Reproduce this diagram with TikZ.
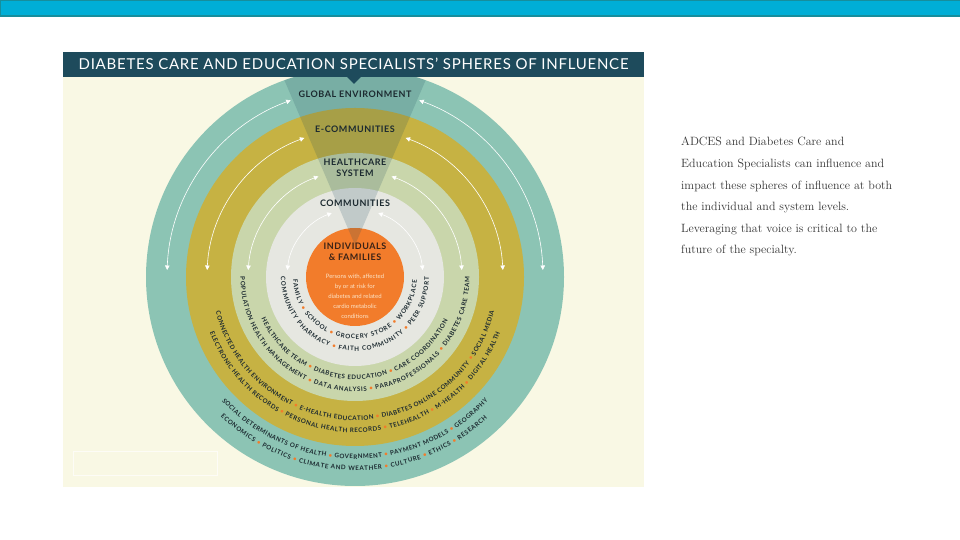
\documentclass[tikz,border=0pt]{standalone}
\usepackage{fontspec}
\setsansfont{Lato}
\usepackage{tikz}
\usetikzlibrary{arrows.meta, decorations.text}
\definecolor{barblue}{HTML}{00AED6}
\definecolor{baredge}{HTML}{168E9C}
\definecolor{headteal}{HTML}{1E4B5C}
\definecolor{creambg}{HTML}{F9F8E4}
\definecolor{globalteal}{HTML}{8CC4B4}
\definecolor{ecomgold}{HTML}{C6B243}
\definecolor{hcgreen}{HTML}{C9D6AB}
\definecolor{commgray}{HTML}{E6E7E1}
\definecolor{indorange}{HTML}{F27C2B}
\definecolor{inkdark}{HTML}{1C2A30}
\definecolor{inkbrown}{HTML}{3A2216}
\definecolor{inkpeach}{HTML}{FCE3C6}
\definecolor{bodygray}{HTML}{333333}
\newcommand\ringfont{\sffamily\bfseries\fontsize{6.2}{7}\selectfont\color{inkdark}}
\newcommand\dotfont{\sffamily\bfseries\fontsize{6.2}{7}\selectfont\color{indorange}}
\tikzset{
  ringhead/.style={font=\sffamily\bfseries\fontsize{9}{11}\selectfont\addfontfeatures{LetterSpace=6}, text=inkdark, align=center, inner sep=0pt},
  ringtext/.style={decorate, decoration={text along path, text align=fit to path, text={#1}}},
  flowarc/.style={{Triangle[length=4.5pt,width=4.5pt]}-{Triangle[length=4.5pt,width=4.5pt]}, line width=0.6pt, draw=white},
}

\begin{document}
\begin{tikzpicture}[x=1pt, y=1pt,
  blurb/.style={font=\fontsize{12}{14}\selectfont, text=bodygray, anchor=base west, inner sep=0pt}]
  \useasboundingbox (0,0) rectangle (960,540);
  \fill[white] (0,0) rectangle (960,540);
  % top strip
  \fill[barblue, draw=baredge, line width=0.8pt] (0,524) rectangle (960,540);
  \draw[baredge, line width=1.4pt] (0,524.5) -- (960,524.5);
  % panel
  \fill[creambg] (63,53) rectangle (644,463);
  \draw[white, opacity=0.7, line width=0.8pt] (73,65) rectangle (217,89);
  \coordinate (c) at (355,263);
  \coordinate (tip) at (355,295);
  % spheres, outermost first
  \foreach \r/\col in {209/globalteal, 169/ecomgold, 124/hcgreen, 89/commgray, 49/indorange}
    \fill[\col] (c) circle (\r);
  % funnel
  \begin{scope}
    \clip (c) circle (209);
    \fill[headteal, opacity=0.18] (tip) -- (250,540) -- (460,540) -- cycle;
  \end{scope}
  % curved labels
  \path[ringtext={|\ringfont|FAMILY |\dotfont|•|\ringfont| SCHOOL |\dotfont|•|\ringfont| GROCERY STORE |\dotfont|•|\ringfont| WORKPLACE}]
    ([shift={(182:62)}]c) arc[start angle=182, end angle=357, radius=62];
  \path[ringtext={|\ringfont|COMMUNITY PHARMACY |\dotfont|•|\ringfont| FAITH COMMUNITY |\dotfont|•|\ringfont| PEER SUPPORT}]
    ([shift={(180:74)}]c) arc[start angle=180, end angle=360, radius=74];
  \path[ringtext={|\ringfont|HEALTHCARE TEAM |\dotfont|•|\ringfont| DIABETES EDUCATION |\dotfont|•|\ringfont| CARE COORDINATION}]
    ([shift={(204:102.5)}]c) arc[start angle=204, end angle=335, radius=102.5];
  \path[ringtext={|\ringfont|POPULATION HEALTH MANAGEMENT |\dotfont|•|\ringfont| DATA ANALYSIS |\dotfont|•|\ringfont| PARAPROFESSIONALS |\dotfont|•|\ringfont| DIABETES CARE TEAM}]
    ([shift={(180:114.5)}]c) arc[start angle=180, end angle=360, radius=114.5];
  \path[ringtext={|\ringfont|CONNECTED HEALTH ENVIRONMENT |\dotfont|•|\ringfont| E-HEALTH EDUCATION |\dotfont|•|\ringfont| DIABETES ONLINE COMMUNITY |\dotfont|•|\ringfont| SOCIAL MEDIA}]
    ([shift={(194:143.5)}]c) arc[start angle=194, end angle=346, radius=143.5];
  \path[ringtext={|\ringfont|ELECTRONIC HEALTH RECORDS |\dotfont|•|\ringfont| PERSONAL HEALTH RECORDS |\dotfont|•|\ringfont| TELEHEALTH |\dotfont|•|\ringfont| M-HEALTH |\dotfont|•|\ringfont| DIGITAL HEALTH}]
    ([shift={(201:155.5)}]c) arc[start angle=201, end angle=339, radius=155.5];
  \path[ringtext={|\ringfont|SOCIAL DETERMINANTS OF HEALTH |\dotfont|•|\ringfont| GOVERNMENT |\dotfont|•|\ringfont| PAYMENT MODELS |\dotfont|•|\ringfont| GEOGRAPHY}]
    ([shift={(223:182)}]c) arc[start angle=223, end angle=317, radius=182];
  \path[ringtext={|\ringfont|ECONOMICS |\dotfont|•|\ringfont| POLITICS |\dotfont|•|\ringfont| CLIMATE AND WEATHER |\dotfont|•|\ringfont| CULTURE |\dotfont|•|\ringfont| ETHICS |\dotfont|•|\ringfont| RESEARCH}]
    ([shift={(226:193.5)}]c) arc[start angle=226, end angle=313, radius=193.5];
  % influence arrows
  \foreach \r in {68,107,148,188}{
    \pgfmathsetmacro\e{asin(7/\r)}
    \pgfmathsetmacro\ea{180-\e}
    \draw[flowarc] ([shift={(110:\r)}]c) arc[start angle=110, end angle=\ea, radius=\r];
    \draw[flowarc] ([shift={(70:\r)}]c) arc[start angle=70, end angle=\e, radius=\r];
  }
  % sphere names
  \node[ringhead] (global) at (355,446) {GLOBAL ENVIRONMENT};
  \node[ringhead] (ecomm) at (355,411) {E-COMMUNITIES};
  \node[ringhead] (hcsys) at (355,372.5) {HEALTHCARE\\SYSTEM};
  \node[ringhead] (comm) at (355,337) {COMMUNITIES};
  \node[ringhead, text=inkbrown] (indiv) at (355,288.7) {INDIVIDUALS\\\& FAMILIES};
  \node[font=\sffamily\fontsize{6}{9.85}\selectfont, text=inkpeach, align=center, inner sep=0pt] (persons) at (355,243.7)
    {Persons with, affected\\by or at risk for\\diabetes and related\\cardio metabolic\\conditions};
  % header
  \fill[headteal] (63,463) rectangle (644,488);
  \fill[headteal] (347,463) -- (361,463) -- (354,456) -- cycle;
  \node[font=\sffamily\fontsize{15}{18}\selectfont\addfontfeatures{LetterSpace=5}, text=white] (title) at (353.5,476)
    {DIABETES CARE AND EDUCATION SPECIALISTS' SPHERES OF INFLUENCE};
  % side note
  \foreach \t [count=\k] in {ADCES and Diabetes Care and, Education Specialists can influence and, impact these spheres of influence at both, the individual and system levels., Leveraging that voice is critical to the, future of the specialty.}
    \node[blurb] (line\k) at (681,415.6-\k*21.6) {\t};
\end{tikzpicture}
\end{document}
